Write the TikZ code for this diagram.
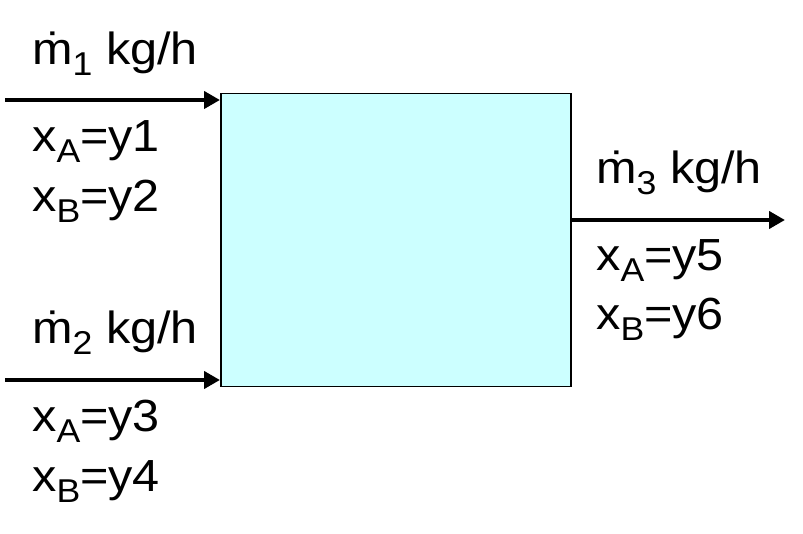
\documentclass[tikz,border=0pt]{standalone}
\usepackage{fontspec}
\setmainfont{Liberation Sans}
\usetikzlibrary{arrows.meta}
\definecolor{boxfill}{HTML}{CCFFFF}
\newcommand\lowsub[1]{\raisebox{-11pt}{\fontsize{33}{33}\selectfont #1}}
\newcommand\wide[1]{\scalebox{1.08}[1]{#1}}
\begin{document}
\begin{tikzpicture}[x=1pt,y=-1pt,
  lbl/.style={anchor=base west,inner sep=0pt,font=\fontsize{45}{45}\selectfont},
  flow/.style={line width=4.5pt,-{Triangle[length=16pt,width=17pt]}},
  unit/.style={draw=black,line width=1.5pt,fill=boxfill,minimum width=350pt,minimum height=293pt,inner sep=0pt,anchor=north west}]
\useasboundingbox (0,0) rectangle (803,534);
\node[unit] (box) at (220,93) {};
\coordinate (in1) at (5,100);
\coordinate (in2) at (5,380);
\coordinate (out) at (785,220);
\draw[flow] (in1) -- (in1 -| box.west);
\draw[flow] (in2) -- (in2 -| box.west);
\draw[flow] (out -| box.east) -- (out);
\node[lbl] (m1) at (32,65) {\wide{\.m\lowsub{1} kg/h}};
\node[lbl] (a1) at (32,152) {\wide{x\lowsub{A}=y1}};
\node[lbl] (b1) at (32,212) {\wide{x\lowsub{B}=y2}};
\node[lbl] (m2) at (32,344) {\wide{\.m\lowsub{2} kg/h}};
\node[lbl] (a2) at (32,431) {\wide{x\lowsub{A}=y3}};
\node[lbl] (b2) at (32,491) {\wide{x\lowsub{B}=y4}};
\node[lbl] (m3) at (596,184) {\wide{\.m\lowsub{3} kg/h}};
\node[lbl] (a3) at (596,271) {\wide{x\lowsub{A}=y5}};
\node[lbl] (b3) at (596,330) {\wide{x\lowsub{B}=y6}};
\end{tikzpicture}
\end{document}
